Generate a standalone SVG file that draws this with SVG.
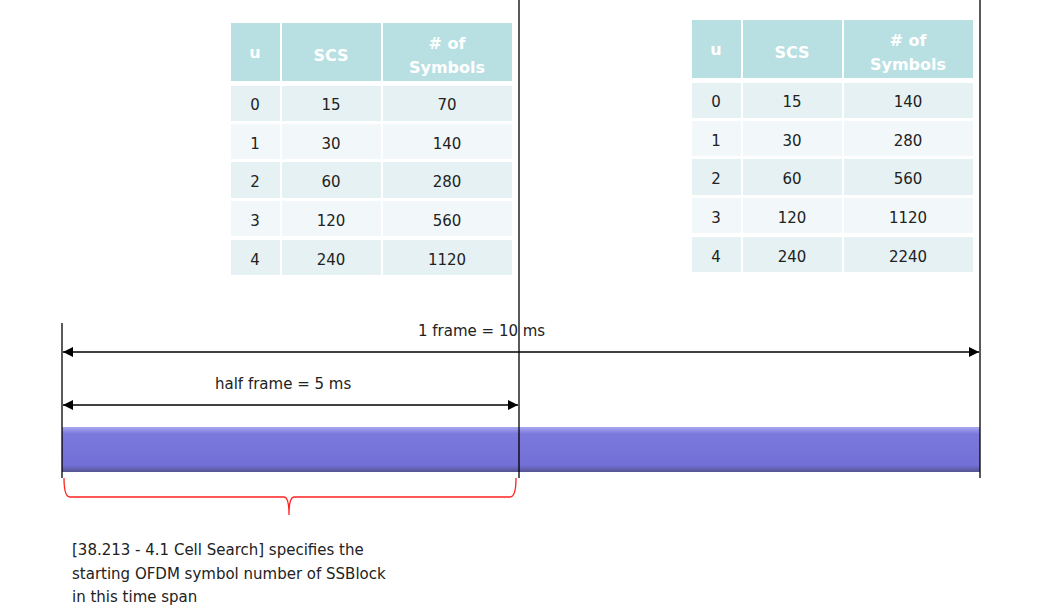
<svg xmlns="http://www.w3.org/2000/svg" width="1054" height="613" viewBox="0 0 1054 613">
<defs>
<style>
text{font-family:"DejaVu Sans",Verdana,sans-serif;font-size:15px;fill:#222}
.h{fill:#fff;font-weight:bold;font-size:16px}
.c{text-anchor:middle}
.hd{fill:#b8dfe2}
.ra{fill:#e6f1f3}
.rb{fill:#f2f8fa}
.ln{stroke:#000;stroke-width:1.3;fill:none}
</style>
<linearGradient id="bar" x1="0" y1="0" x2="0" y2="1">
<stop offset="0" stop-color="#a9a9f0"/><stop offset="0.15" stop-color="#7b79dc"/><stop offset="0.85" stop-color="#7270d6"/><stop offset="1" stop-color="#55548f"/>
</linearGradient>
<marker id="a" viewBox="0 0 10 10" refX="10" refY="5" markerWidth="10" markerHeight="10" markerUnits="userSpaceOnUse" orient="auto-start-reverse"><path d="M0,0L10,5L0,10z" fill="#000"/></marker>
</defs>
<g id="table1">
<rect class="hd" x="231" y="23" width="49" height="58"/><rect class="hd" x="282" y="23" width="99" height="58"/><rect class="hd" x="383" y="23" width="129" height="58"/>
<text class="h c" x="255" y="58">u</text><text class="h c" x="331" y="61">SCS</text><text class="h c" x="447" y="49">#  of</text><text class="h c" x="447" y="73">Symbols</text>
<g id="t1r">
<rect class="ra" x="231" y="86" width="49" height="35"/><rect class="ra" x="282" y="86" width="99" height="35"/><rect class="ra" x="383" y="86" width="129" height="35"/>
<rect class="rb" x="231" y="124" width="49" height="35"/><rect class="rb" x="282" y="124" width="99" height="35"/><rect class="rb" x="383" y="124" width="129" height="35"/>
<rect class="ra" x="231" y="162" width="49" height="36"/><rect class="ra" x="282" y="162" width="99" height="36"/><rect class="ra" x="383" y="162" width="129" height="36"/>
<rect class="rb" x="231" y="201" width="49" height="35"/><rect class="rb" x="282" y="201" width="99" height="35"/><rect class="rb" x="383" y="201" width="129" height="35"/>
<rect class="ra" x="231" y="240" width="49" height="35"/><rect class="ra" x="282" y="240" width="99" height="35"/><rect class="ra" x="383" y="240" width="129" height="35"/>
</g>
<text class="c" x="255" y="110">0</text><text class="c" x="331" y="110">15</text><text class="c" x="447" y="110">70</text>
<text class="c" x="255" y="149">1</text><text class="c" x="331" y="149">30</text><text class="c" x="447" y="149">140</text>
<text class="c" x="255" y="187">2</text><text class="c" x="331" y="187">60</text><text class="c" x="447" y="187">280</text>
<text class="c" x="255" y="226">3</text><text class="c" x="331" y="226">120</text><text class="c" x="447" y="226">560</text>
<text class="c" x="255" y="265">4</text><text class="c" x="331" y="265">240</text><text class="c" x="447" y="265">1120</text>
</g>
<g id="table2" transform="translate(461,-3)">
<rect class="hd" x="231" y="23" width="49" height="58"/><rect class="hd" x="282" y="23" width="99" height="58"/><rect class="hd" x="383" y="23" width="129" height="58"/>
<text class="h c" x="255" y="58">u</text><text class="h c" x="331" y="61">SCS</text><text class="h c" x="447" y="49">#  of</text><text class="h c" x="447" y="73">Symbols</text>
<rect class="ra" x="231" y="86" width="49" height="35"/><rect class="ra" x="282" y="86" width="99" height="35"/><rect class="ra" x="383" y="86" width="129" height="35"/>
<rect class="rb" x="231" y="124" width="49" height="35"/><rect class="rb" x="282" y="124" width="99" height="35"/><rect class="rb" x="383" y="124" width="129" height="35"/>
<rect class="ra" x="231" y="162" width="49" height="36"/><rect class="ra" x="282" y="162" width="99" height="36"/><rect class="ra" x="383" y="162" width="129" height="36"/>
<rect class="rb" x="231" y="201" width="49" height="35"/><rect class="rb" x="282" y="201" width="99" height="35"/><rect class="rb" x="383" y="201" width="129" height="35"/>
<rect class="ra" x="231" y="240" width="49" height="35"/><rect class="ra" x="282" y="240" width="99" height="35"/><rect class="ra" x="383" y="240" width="129" height="35"/>
<text class="c" x="255" y="110">0</text><text class="c" x="331" y="110">15</text><text class="c" x="447" y="110">140</text>
<text class="c" x="255" y="149">1</text><text class="c" x="331" y="149">30</text><text class="c" x="447" y="149">280</text>
<text class="c" x="255" y="187">2</text><text class="c" x="331" y="187">60</text><text class="c" x="447" y="187">560</text>
<text class="c" x="255" y="226">3</text><text class="c" x="331" y="226">120</text><text class="c" x="447" y="226">1120</text>
<text class="c" x="255" y="265">4</text><text class="c" x="331" y="265">240</text><text class="c" x="447" y="265">2240</text>
</g>
<g id="bar"><rect x="62" y="427" width="918" height="45" fill="url(#bar)"/></g>
<g id="connectors">
<line class="ln" x1="62" y1="323" x2="62" y2="478"/>
<line class="ln" x1="519" y1="0" x2="519" y2="478"/>
<line class="ln" x1="980" y1="0" x2="980" y2="478"/>
<line class="ln" x1="63" y1="352" x2="979" y2="352" marker-start="url(#a)" marker-end="url(#a)"/>
<line class="ln" x1="63" y1="405" x2="518" y2="405" marker-start="url(#a)" marker-end="url(#a)"/>
<path d="M64,478 Q64,497 70,497 L284,497 Q289,497 289,515 Q289,497 294,497 L510,497 Q516,497 516,478" fill="none" stroke="#f22" stroke-width="1.3"/>
</g>
<g id="labels">
<text x="418" y="336">1 frame = 10 ms</text>
<text x="215" y="389">half frame = 5 ms</text>
<text x="72" y="555">[38.213 - 4.1 Cell Search] specifies the</text>
<text x="72" y="579">starting OFDM symbol number of SSBlock</text>
<text x="72" y="602">in this time span</text>
</g>
</svg>
